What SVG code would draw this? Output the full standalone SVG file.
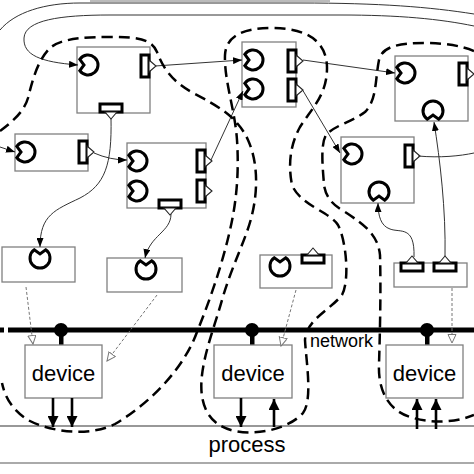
<svg xmlns="http://www.w3.org/2000/svg" width="474" height="474" viewBox="0 0 474 474">
<style>
.box{fill:#fff;stroke:#808080;stroke-width:1.3}
.port{fill:#fff;stroke:#000;stroke-width:3}
.tri{fill:#fff;stroke:#222;stroke-width:1.1}
.con{fill:none;stroke:#333;stroke-width:1}
.dot{fill:none;stroke:#777;stroke-width:1;stroke-dasharray:3 2}
.bnd{fill:none;stroke:#000;stroke-width:2.5;stroke-dasharray:11 6}
.lbl{font-family:"Liberation Sans",Arial,sans-serif;fill:#000}
.dev{stroke:#000;stroke-width:2.6}
</style>
<defs>
<path id="req" class="port" d="M-8.2,-5.7 A10,10 0 1 1 -8.2,5.7 L-4,0 Z"/>
<g id="prov"><rect class="port" x="-8" y="-11" width="8" height="22"/><path class="tri" d="M0,-6 L7,0 L0,6 Z"/></g>
<marker id="ah" markerUnits="userSpaceOnUse" markerWidth="9" markerHeight="7" refX="9" refY="3.5" orient="auto"><path d="M0,0 L9,3.5 L0,7 Z" fill="#000"/></marker>
<marker id="oh" markerUnits="userSpaceOnUse" markerWidth="10" markerHeight="10" refX="9" refY="4.5" orient="auto"><path d="M0.5,0.5 L9,4.5 L0.5,8.5 Z" fill="#fff" stroke="#777" stroke-width="1"/></marker>
<marker id="bh" markerUnits="userSpaceOnUse" markerWidth="11" markerHeight="11" refX="11" refY="5.5" orient="auto"><path d="M0,0 L11,5.5 L0,11 Z" fill="#000"/></marker>
</defs>
<rect x="0" y="0" width="474" height="474" fill="#fff"/>
<rect x="90" y="0" width="240" height="2" fill="#bbb"/>

<g id="process">
<line x1="0" y1="426" x2="474" y2="426" stroke="#333" stroke-width="1.2"/>
<line x1="0" y1="463" x2="474" y2="463" stroke="#aaa" stroke-width="2"/>
<text class="lbl" x="247" y="452" font-size="22" text-anchor="middle">process</text>
</g>

<g id="network">
<line x1="0" y1="330" x2="4" y2="330" stroke="#000" stroke-width="5"/>
<line x1="8" y1="330" x2="474" y2="330" stroke="#000" stroke-width="5"/>
<text class="lbl" x="310" y="347" font-size="18">network</text>
<circle cx="61" cy="330" r="7"/><rect x="59" y="330" width="4.5" height="15"/>
<circle cx="252" cy="330" r="7"/><rect x="250" y="330" width="4.5" height="15"/>
<circle cx="427" cy="330" r="7"/><rect x="425" y="330" width="4.5" height="15"/>
</g>

<g id="nodeA">
<rect class="box" x="77" y="47" width="73" height="66"/>
<use href="#req" transform="translate(88,65)"/>
<use href="#prov" transform="translate(149,66)"/>
<use href="#prov" transform="translate(111,112) rotate(90)"/>
</g>
<g id="nodeB">
<rect class="box" x="15" y="134" width="73" height="37"/>
<use href="#req" transform="translate(25,152)"/>
<use href="#prov" transform="translate(87,152)"/>
</g>
<g id="nodeC">
<rect class="box" x="127" y="143" width="79" height="65"/>
<use href="#req" transform="translate(137,161)"/>
<use href="#req" transform="translate(137,191)"/>
<use href="#prov" transform="translate(205,161)"/>
<use href="#prov" transform="translate(205,191)"/>
<use href="#prov" transform="translate(170,208) rotate(90)"/>
</g>
<g id="nodeD">
<rect class="box" x="242" y="42" width="54" height="65"/>
<use href="#req" transform="translate(253,60)"/>
<use href="#req" transform="translate(253,89)"/>
<use href="#prov" transform="translate(296,61)"/>
<use href="#prov" transform="translate(296,90)"/>
</g>
<g id="nodeE">
<rect class="box" x="395" y="56" width="73" height="65"/>
<use href="#req" transform="translate(405,73)"/>
<use href="#req" transform="translate(433,111) rotate(-90)"/>
<use href="#prov" transform="translate(467,74)"/>
</g>
<g id="nodeF">
<rect class="box" x="341" y="137" width="73" height="66"/>
<use href="#req" transform="translate(352,154)"/>
<use href="#req" transform="translate(379,192) rotate(-90)"/>
<use href="#prov" transform="translate(413,156)"/>
</g>
<g id="nodeG">
<rect class="box" x="2" y="247" width="73" height="35"/>
<use href="#req" transform="translate(40,258) rotate(90)"/>
</g>
<g id="nodeH">
<rect class="box" x="107" y="258" width="75" height="34"/>
<use href="#req" transform="translate(146,269) rotate(90)"/>
</g>
<g id="nodeI">
<rect class="box" x="260" y="255" width="72" height="33"/>
<use href="#req" transform="translate(280,266) rotate(90)"/>
<use href="#prov" transform="translate(313,255) rotate(-90)"/>
</g>
<g id="nodeJ">
<rect class="box" x="394" y="263" width="73" height="24"/>
<use href="#prov" transform="translate(412,263) rotate(-90)"/>
<use href="#prov" transform="translate(445,263) rotate(-90)"/>
</g>
<g id="device1">
<rect class="box" x="25" y="345" width="77" height="53"/>
<text class="lbl" x="63.5" y="381" font-size="22" text-anchor="middle">device</text>
</g>
<g id="device2">
<rect class="box" x="214" y="345" width="78" height="53"/>
<text class="lbl" x="253" y="381" font-size="22" text-anchor="middle">device</text>
</g>
<g id="device3">
<rect class="box" x="386" y="345" width="77" height="53"/>
<text class="lbl" x="424.5" y="381" font-size="22" text-anchor="middle">device</text>
</g>

<g id="connectors">
<path class="con" d="M474,14 C430,7 380,3 300,3 L80,3 C45,3 15,12 0,30"/>
<path class="con" d="M418,156 C440,158 460,156 474,153"/>
<path class="con" d="M0,147 L15,152" marker-end="url(#ah)"/>
<path class="con" d="M474,26 C440,19 400,15 340,15 L110,15 C60,15 25,20 24,38 C23,55 40,62 78,65" marker-end="url(#ah)"/>
<path class="con" d="M155,66 L242,60" marker-end="url(#ah)"/>
<path class="con" d="M94,153 Q110,160 127,160" marker-end="url(#ah)"/>
<path class="con" d="M211,160 L243,91" marker-end="url(#ah)"/>
<path class="con" d="M303,60 L395,73" marker-end="url(#ah)"/>
<path class="con" d="M302,89 L340,153" marker-end="url(#ah)"/>
<path class="con" d="M111,118 C112,165 105,185 80,198 C55,210 40,215 40,247" marker-end="url(#ah)"/>
<path class="con" d="M171,214 C171,232 150,235 145,258" marker-end="url(#ah)"/>
<path class="con" d="M414,257 C415,225 400,233 390,229 C381,226 378,216 378,203" marker-end="url(#ah)"/>
<path class="con" d="M445,257 C446,210 440,160 434,122" marker-end="url(#ah)"/>
<path class="dot" d="M26,287 L33,344" marker-end="url(#oh)"/>
<path class="dot" d="M157,295 L107,361" marker-end="url(#oh)"/>
<path class="dot" d="M296,290 L281,346" marker-end="url(#oh)"/>
<path class="dot" d="M452,288 L452,343" marker-end="url(#oh)"/>
<line class="dev" x1="53" y1="398" x2="53" y2="427" marker-end="url(#bh)"/>
<line class="dev" x1="72" y1="398" x2="72" y2="427" marker-end="url(#bh)"/>
<line class="dev" x1="241" y1="398" x2="241" y2="427" marker-end="url(#bh)"/>
<line class="dev" x1="274" y1="427" x2="274" y2="399" marker-end="url(#bh)"/>
<line class="dev" x1="417" y1="429" x2="417" y2="399" marker-end="url(#bh)"/>
<line class="dev" x1="436" y1="429" x2="436" y2="399" marker-end="url(#bh)"/>
</g>

<g id="boundaries">
<path class="bnd" d="M0,131 C12,122 24,112 28,98 C33,78 38,60 50,48 C62,38 85,37 112,37 C140,37 152,40 157,52 C163,68 172,82 195,94 C220,107 238,118 248,140 C258,162 258,190 252,215 C246,240 232,265 222,300 C215,325 205,350 202,375 C199,400 205,425 235,431 C258,436 290,428 303,413 C313,400 306,360 305,340 C306,320 330,310 342,295 C350,280 346,240 338,225 C330,212 300,205 292,185 C288,165 290,145 300,127 C312,108 327,95 327,68 C327,40 305,28 272,28 C245,28 226,35 225,55 C224,80 235,110 237,140 C239,170 237,200 230,230 C222,265 210,300 197,332 C185,365 155,400 115,424 C90,437 50,432 28,420 C12,410 5,397 2,383"/>
<path class="bnd" d="M474,51 C462,46 445,43 425,43 C400,43 382,46 379,60 C375,80 377,100 365,112 C352,122 335,125 326,135 C320,145 323,170 324,185 C326,198 333,205 345,212 C365,225 378,235 380,255 C381,290 380,330 379,365 C378,390 388,410 410,417 C435,425 460,421 474,415"/>
</g>
</svg>
